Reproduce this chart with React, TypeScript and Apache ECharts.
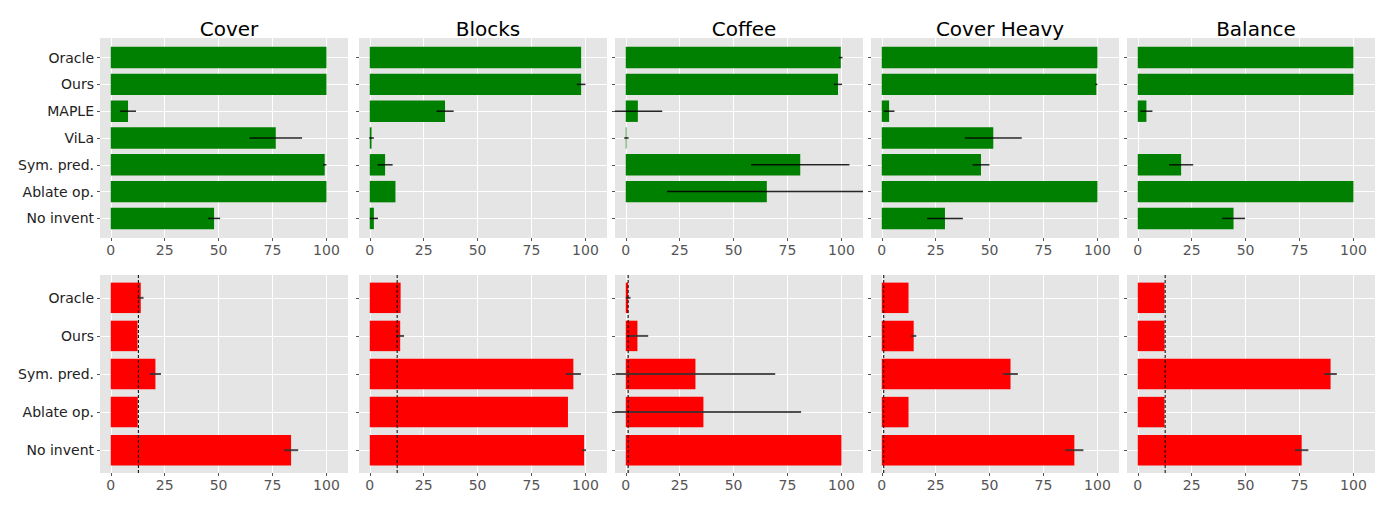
import React, { useEffect, useRef } from 'react';
import * as echarts from 'echarts';

const panelTitles = ['Cover', 'Blocks', 'Coffee', 'Cover Heavy', 'Balance'];
const topCategories = ['Oracle', 'Ours', 'MAPLE', 'ViLa', 'Sym. pred.', 'Ablate op.', 'No invent'];
const bottomCategories = ['Oracle', 'Ours', 'Sym. pred.', 'Ablate op.', 'No invent'];
const xTickValues = [0, 25, 50, 75, 100];

// Top row (green): success per environment
const successCover = [100, 100, 8, 76.5, 99.2, 100, 47.9];
const successCoverErr = [0, 0, 3.7, 12.2, 0.8, 0, 2.8];
const successBlocks = [98, 98, 34.9, 0.8, 7.1, 11.9, 1.9];
const successBlocksErr = [0, 2, 4, 1.1, 3.5, 0, 1.9];
const successCoffee = [99.7, 98.4, 5.6, 0.3, 80.9, 65.4, 0];
const successCoffeeErr = [0.8, 1.9, 11.3, 1, 22.8, 46.3, 0];
const successCoverHeavy = [100, 99.5, 3.4, 51.7, 46, 100, 29.3];
const successCoverHeavyErr = [0, 0.5, 2.5, 13.2, 3.9, 0, 8.3];
const successBalance = [100, 100, 4, 0, 20.1, 100, 44.4];
const successBalanceErr = [0, 0, 2.8, 0, 5.6, 0, 5.3];

// Bottom row (red)
const costCover = [13.9, 12.4, 20.7, 12.5, 83.6];
const costCoverErr = [1.3, 0, 2.6, 0, 3.3];
const costBlocks = [14.3, 14.1, 94.4, 91.9, 99.4];
const costBlocksErr = [0, 1.8, 3.5, 0, 0.9];
const costCoffee = [1.1, 5.4, 32.3, 36, 100];
const costCoffeeErr = [1.1, 5, 37, 45.3, 0];
const costCoverHeavy = [12.4, 14.8, 59.7, 12.4, 89.3];
const costCoverHeavyErr = [0, 1.2, 3.4, 0, 4.2];
const costBalance = [12.4, 12.4, 89.4, 12.4, 76];
const costBalanceErr = [0, 0, 2.9, 0, 3.1];

const baselines = [12.8, 12.7, 1.1, 0.9, 12.7];

const topValues = [successCover, successBlocks, successCoffee, successCoverHeavy, successBalance];
const topErrors = [successCoverErr, successBlocksErr, successCoffeeErr, successCoverHeavyErr, successBalanceErr];
const bottomValues = [costCover, costBlocks, costCoffee, costCoverHeavy, costBalance];
const bottomErrors = [costCoverErr, costBlocksErr, costCoffeeErr, costCoverHeavyErr, costBalanceErr];

const X_MIN = -5;
const X_MAX = 110;
const BAR_HALF = 0.4;

export default function App() {
  const ref = useRef<HTMLDivElement>(null);
  useEffect(() => {
    if (!ref.current) return;
    const chart = echarts.init(ref.current, null, { renderer: 'svg' });
    const lefts = [100, 359, 615, 871, 1127];
    const width = 248;
    const rows = [
      { top: 38, height: 200, cats: topCategories, pad: 0.73, values: topValues, errors: topErrors, color: '#008000', errColor: '#000000', errWidth: 1.5 },
      { top: 275, height: 198, cats: bottomCategories, pad: 0.6, values: bottomValues, errors: bottomErrors, color: '#ff0000', errColor: '#333333', errWidth: 2 },
    ];
    const grids: any[] = [];
    const xAxes: any[] = [];
    const yAxes: any[] = [];
    const series: any[] = [];
    const titles: any[] = [];
    let gi = 0;
    rows.forEach((row, r) => {
      const n = row.cats.length;
      const yMin = -row.pad;
      const yMax = n - 1 + row.pad;
      const catIdx = row.cats.map((_, i) => i);
      lefts.forEach((left, p) => {
        grids.push({ left, top: row.top, width, height: row.height, show: true, backgroundColor: '#e5e5e5', borderWidth: 0 });
        xAxes.push({
          type: 'value', gridIndex: gi, min: X_MIN, max: X_MAX, position: 'bottom',
          axisLine: { show: false, onZero: false },
          axisTick: { show: true, customValues: xTickValues, length: 3, lineStyle: { color: '#555555' } },
          axisLabel: { show: true, customValues: xTickValues, color: '#555555', fontSize: 14, fontFamily: 'DejaVu Sans', margin: 5 },
          splitLine: { show: true, lineStyle: { color: '#ffffff', width: 1 } },
        });
        yAxes.push({
          type: 'value', gridIndex: gi, min: yMin, max: yMax, inverse: true, position: 'left',
          axisLine: { show: false, onZero: false },
          axisTick: { show: true, customValues: catIdx, length: 3, lineStyle: { color: '#555555' } },
          axisLabel: {
            show: p === 0, customValues: catIdx, color: '#222222', fontSize: 14, fontFamily: 'DejaVu Sans', margin: 6,
            formatter: (v: number) => row.cats[Math.round(v)] ?? '',
          },
          splitLine: { show: true, lineStyle: { color: '#ffffff', width: 1 } },
        });
        const vals = row.values[p];
        const errs = row.errors[p];
        const color = row.color;
        series.push({
          type: 'custom', xAxisIndex: gi, yAxisIndex: gi, clip: true, z: 2,
          data: vals.map((v, i) => [v, i]),
          encode: { x: 0, y: 1 },
          renderItem: (params: any, api: any) => {
            const v = api.value(0);
            const i = api.value(1);
            if (!v) return null;
            const a = api.coord([0, i - BAR_HALF]);
            const b = api.coord([v, i + BAR_HALF]);
            return {
              type: 'rect',
              shape: { x: Math.min(a[0], b[0]), y: Math.min(a[1], b[1]), width: Math.abs(b[0] - a[0]), height: Math.abs(b[1] - a[1]) },
              style: { fill: color },
            };
          },
        });
        series.push({
          type: 'custom', xAxisIndex: gi, yAxisIndex: gi, clip: true, z: 3,
          data: vals.map((v, i) => [v, i, errs[i]]),
          encode: { x: 0, y: 1 },
          renderItem: (params: any, api: any) => {
            const v = api.value(0);
            const i = api.value(1);
            const e = api.value(2);
            if (!e) return null;
            const lo = Math.max(X_MIN, v - e);
            const hi = Math.min(X_MAX, v + e);
            const a = api.coord([lo, i]);
            const b = api.coord([hi, i]);
            return {
              type: 'line',
              shape: { x1: a[0], y1: a[1], x2: b[0], y2: b[1] },
              style: { stroke: row.errColor, lineWidth: row.errWidth, opacity: 0.85 },
            };
          },
        });
        if (r === 1) {
          series.push({
            type: 'custom', xAxisIndex: gi, yAxisIndex: gi, clip: true, z: 4,
            data: [[baselines[p], 0]],
            encode: { x: 0, y: 1 },
            renderItem: (params: any, api: any) => {
              const v = api.value(0);
              const a = api.coord([v, yMin]);
              const b = api.coord([v, yMax]);
              return {
                type: 'line',
                shape: { x1: a[0], y1: a[1], x2: b[0], y2: b[1] },
                style: { stroke: '#000000', lineWidth: 1, lineDash: [3, 2] },
              };
            },
          });
        }
        if (r === 0) {
          titles.push({
            text: panelTitles[p], left: left + width / 2, top: 14, textAlign: 'center',
            textStyle: { fontSize: 20, fontWeight: 'normal', color: '#000000', fontFamily: 'DejaVu Sans' },
          });
        }
        gi++;
      });
    });
    chart.setOption({
      animation: false,
      backgroundColor: '#ffffff',
      title: titles,
      grid: grids,
      xAxis: xAxes,
      yAxis: yAxes,
      series,
    });
    return () => chart.dispose();
  }, []);
  return <div ref={ref} style={{ position: 'fixed', left: 0, top: 0, width: 1394, height: 512 }} />;
}
